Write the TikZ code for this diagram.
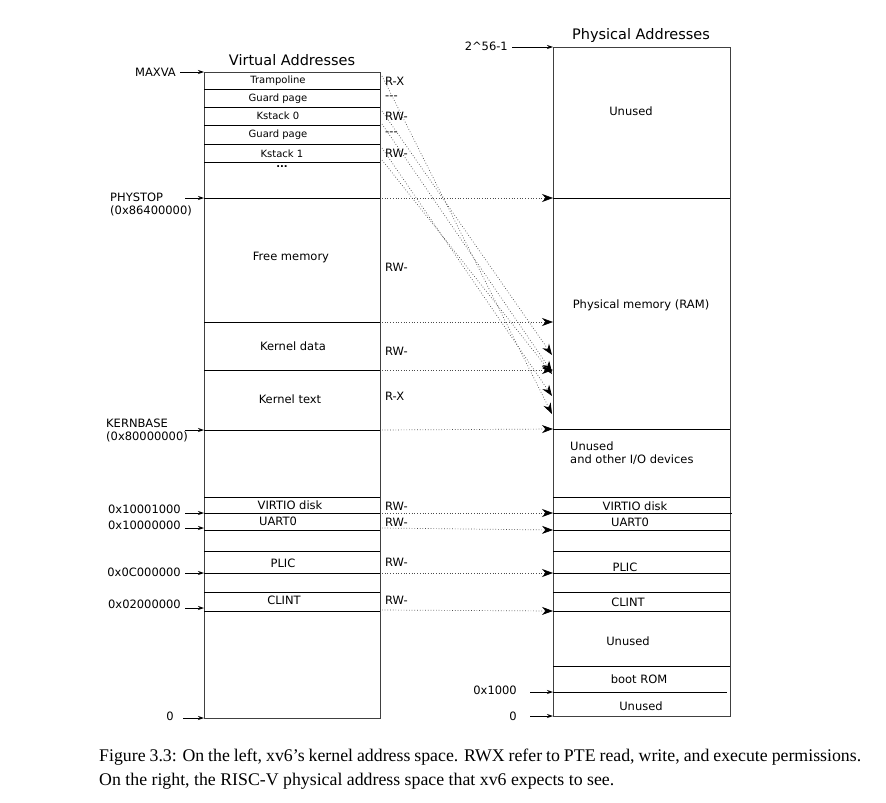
\documentclass[tikz,border=0pt]{standalone}
\usepackage{fontspec}
\setmainfont{DejaVu Sans}
\newfontfamily\capfont{Liberation Serif}
\usetikzlibrary{arrows.meta}
\begin{document}
\begin{tikzpicture}[x=1pt,y=-1pt,
  box/.style={draw=black!75,line width=1pt},
  sep/.style={draw=black,line width=0.8pt},
  lbl/.style={font=\fontsize{11.5}{13}\selectfont,inner sep=0pt},
  sm/.style={font=\fontsize{10}{11}\selectfont,inner sep=0pt},
  ttl/.style={font=\fontsize{14.5}{16}\selectfont,inner sep=0pt},
  addr/.style={-{Stealth[length=6pt,width=4pt]},line width=0.8pt},
  map/.style={dotted,line width=0.7pt,black!70,
    arrows={-{Stealth[length=11pt,width=8pt,black]}}}]
\useasboundingbox (0,0) rectangle (886,803);
% left box
\draw[box] (204,72) rectangle (380,718);
\foreach \y in {89,107,125,144,162,198,322,370,430,497,513,530,551,573,592,611}
  \draw[sep] (204,\y) -- (380,\y);
% right box
\draw[box] (553,47) rectangle (730,716);
\foreach \y in {198,429,497,530,551,573,592,611,666}
  \draw[sep] (553,\y) -- (730,\y);
\draw[sep] (553,513) -- (732,513);
\draw[sep] (553,692) -- (727,692);
% titles
\node[ttl] (vt) at (292,60) {Virtual Addresses};
\node[ttl] (pt) at (641,35) {Physical Addresses};
% virtual labels
\node[sm] (v1) at (278,81) {Trampoline};
\node[sm] (v2) at (278,99) {Guard page};
\node[sm] (v3) at (278,116) {Kstack 0};
\node[sm] (v4) at (278,135) {Guard page};
\node[sm] (v5) at (282,154) {Kstack 1};
\node[lbl,font=\bfseries] (v6) at (282,167) {...};
\node[lbl] (v7) at (291,258) {Free memory};
\node[lbl] (v8) at (293,346) {Kernel data};
\node[lbl] (v9) at (290,399) {Kernel text};
\node[lbl] (v10) at (290,505) {VIRTIO disk};
\node[lbl] (v11) at (278,521) {UART0};
\node[lbl] (v12) at (283,563) {PLIC};
\node[lbl] (v13) at (284,600) {CLINT};
% permissions
\foreach \y/\t in {81/R-X,98/{-}{-}{-},116/RW-,134/{-}{-}{-},153/RW-,267/RW-,351/RW-,396/R-X,506/RW-,522/RW-,562/RW-,600/RW-}
  \node[lbl,anchor=west] at (385,\y) {\t};
% physical labels
\node[lbl] (p1) at (631,111) {Unused};
\node[lbl] (p2) at (641,305) {Physical memory (RAM)};
\node[lbl,anchor=west,align=left] (p3) at (570,453) {Unused\\and other I/O devices};
\node[lbl] (p4) at (635,506) {VIRTIO disk};
\node[lbl] (p5) at (630,522) {UART0};
\node[lbl] (p6) at (625,567) {PLIC};
\node[lbl] (p7) at (628,602) {CLINT};
\node[lbl] (p8) at (628,641) {Unused};
\node[lbl] (p9) at (639,679) {boot ROM};
\node[lbl] (p10) at (641,706) {Unused};
% left address labels
\node[lbl,anchor=east] (a1) at (176,72) {MAXVA};
\coordinate (a1e) at (204,72);
\draw[addr] (a1.east) ++(4,0) -- (a1e);
\node[lbl,anchor=west,align=left] (a2) at (110,204) {PHYSTOP\\(0x86400000)};
\coordinate (a2s) at (185,198); \coordinate (a2e) at (204,198);
\draw[addr] (a2s) -- (a2e);
\node[lbl,anchor=west,align=left] (a3) at (106,430) {KERNBASE\\(0x80000000)};
\coordinate (a3s) at (185,430); \coordinate (a3e) at (204,430);
\draw[addr] (a3s) -- (a3e);
\node[lbl,anchor=east] (a4) at (181,509) {0x10001000};
\coordinate (a4e) at (204,513); \draw[addr] (185,513) -- (a4e);
\node[lbl,anchor=east] (a5) at (181,525) {0x10000000};
\coordinate (a5e) at (204,528); \draw[addr] (185,528) -- (a5e);
\node[lbl,anchor=east] (a6) at (181,572) {0x0C000000};
\coordinate (a6e) at (204,573); \draw[addr] (185,573) -- (a6e);
\node[lbl,anchor=east] (a7) at (181,604) {0x02000000};
\coordinate (a7e) at (204,608); \draw[addr] (185,608) -- (a7e);
\node[lbl,anchor=east] (a8) at (174,716) {0};
\coordinate (a8e) at (204,718); \draw[addr] (183,718) -- (a8e);
% right address labels
\node[lbl,anchor=east] (b1) at (508,46) {2\textasciicircum56-1};
\coordinate (b1e) at (553,47); \draw[addr] (512,47) -- (b1e);
\node[lbl,anchor=east] (b2) at (517,690) {0x1000};
\coordinate (b2e) at (553,692); \draw[addr] (530,692) -- (b2e);
\node[lbl,anchor=east] (b3) at (517,716) {0};
\coordinate (b3e) at (553,716); \draw[addr] (530,716) -- (b3e);
% horizontal mappings
\foreach \y/\z in {198/198,322/322,370/370,430/429,513/513,528/530,573/573,610/611}
  \draw[map] (382,\y) -- (553,\z);
% diagonal mappings
\draw[map] (382,76) -- (552,414);
\draw[map] (382,111) -- (552,355);
\draw[map] (382,124) -- (552,372);
\draw[map] (382,148) -- (552,396);
\draw[map] (382,160) -- (552,374);
% caption
\node[anchor=north west,text width=762pt,align=justify,inner sep=0pt,
  font=\capfont\fontsize{17.8}{24}\selectfont] (cap) at (99,749)
  {Figure 3.3: On the left, xv6’s kernel address space. RWX refer to PTE read, write, and execute permissions. On the right, the RISC-V physical address space that xv6 expects to see.};
\end{tikzpicture}
\end{document}
